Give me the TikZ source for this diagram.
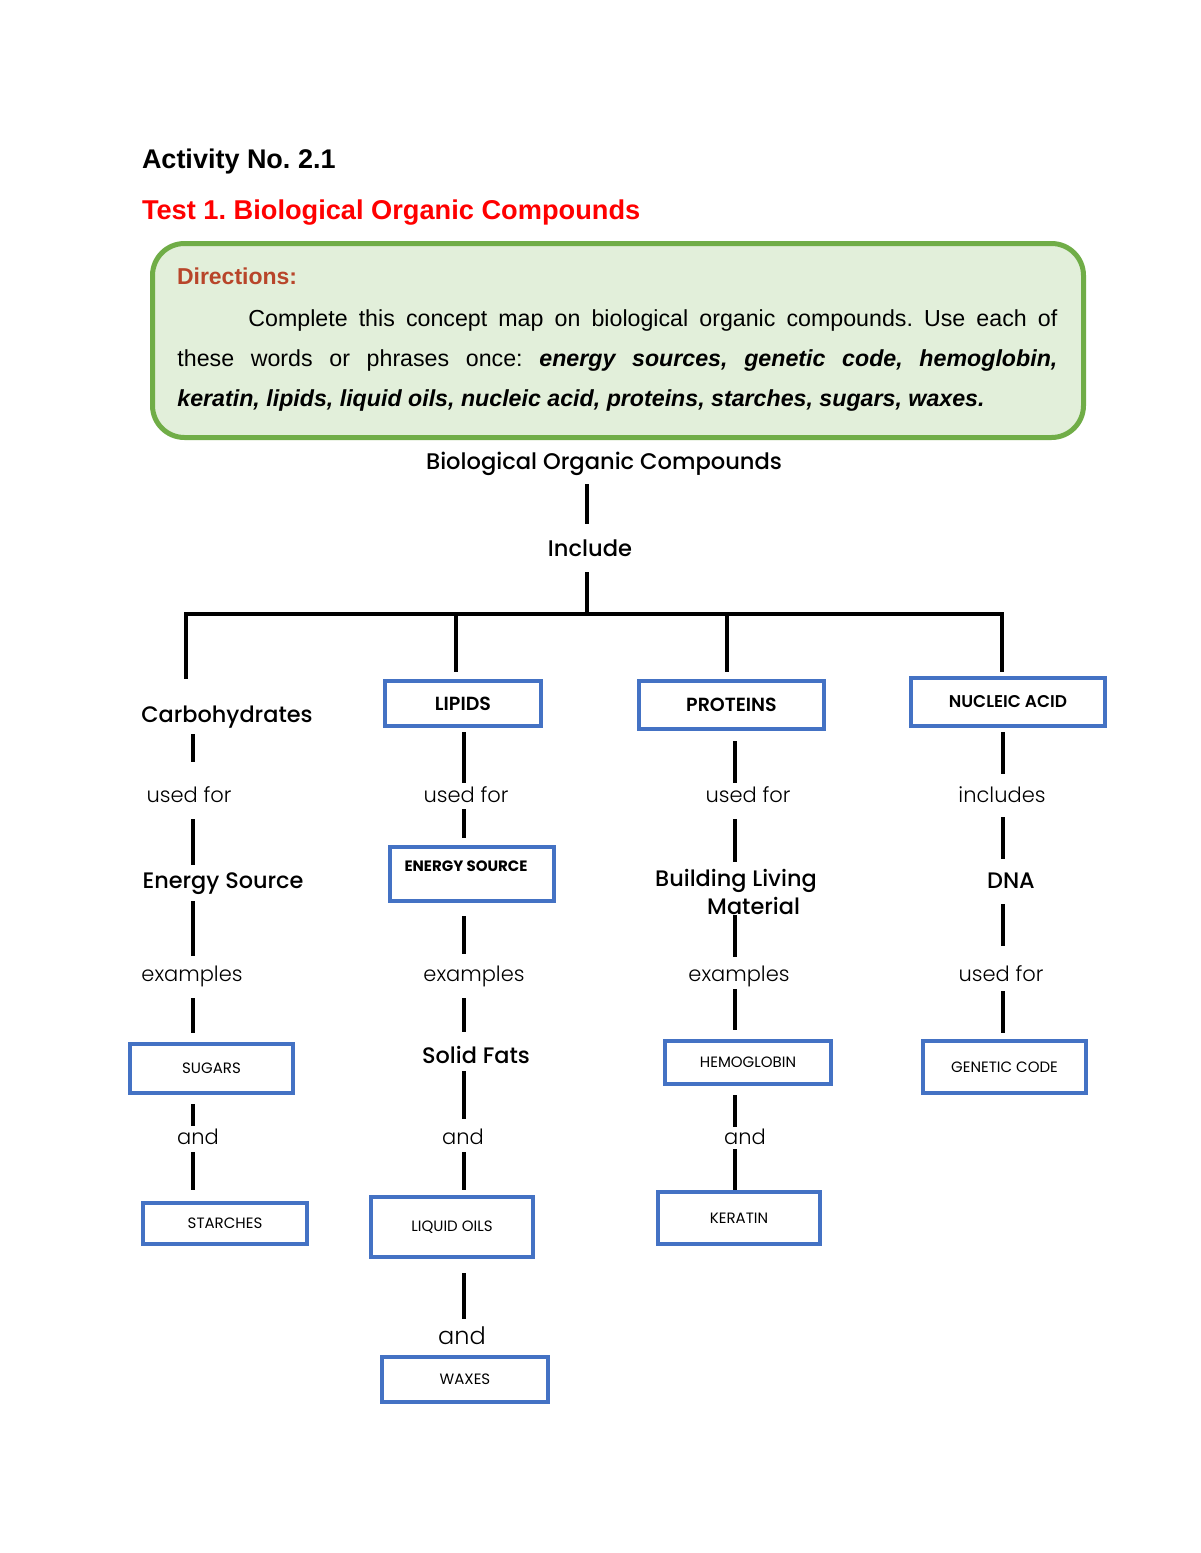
\documentclass[tikz,border=0pt]{standalone}
\usepackage{fontspec}
\setmainfont{Liberation Sans}
\newfontfamily\gl{Poppins Light}
\newfontfamily\gr{Poppins}
\newfontfamily\gm{Poppins Medium}
\newfontfamily\gs{Poppins SemiBold}
\newfontfamily\gb{Poppins Bold}
\definecolor{boxblue}{HTML}{4472C4}
\definecolor{gborder}{HTML}{70AD47}
\definecolor{gfill}{HTML}{E2EFDA}
\definecolor{dircol}{HTML}{B8452A}
\frenchspacing
\begin{document}
\begin{tikzpicture}[x=0.5pt,y=-0.5pt,
  lbl/.style={inner sep=0pt, outer sep=0pt, text height=0pt, text depth=0pt, anchor=base},
  concept/.style={lbl, font=\gm\fontsize{11.2}{14}\selectfont},
  top/.style={lbl, font=\gm\fontsize{11.3}{14}\selectfont},
  link/.style={lbl, font=\gl\fontsize{10.5}{12}\selectfont},
  box/.style 2 args={draw=boxblue, line width=2pt, inner sep=0pt, minimum width=#1pt, minimum height=#2pt, font=\gr\fontsize{7.5}{9}\selectfont},
  hbox/.style={font=\gs\fontsize{9.5}{11}\selectfont},
  conn/.style={line width=2pt, draw=black},
  gap/.style 2 args={shorten <=#1pt, shorten >=#2pt}]
\useasboundingbox (0,0) rectangle (1200,1553);
\fill[white] (0,0) rectangle (1200,1553);

% header
\node[lbl, anchor=base west, font=\bfseries\fontsize{13.5}{15}\selectfont] (act) at (142,168) {Activity No. 2.1};
\node[lbl, anchor=base west, text=red, font=\bfseries\fontsize{13.6}{15}\selectfont] (test) at (142,219) {Test 1. Biological Organic Compounds};

% directions box
\node[draw=gborder, fill=gfill, line width=2.5pt, rounded corners=16pt, inner sep=0pt,
      minimum width=465.5pt, minimum height=97pt] (dirbox) at (618,340.5) {};
\node[lbl, anchor=base west, text=dircol, font=\bfseries\fontsize{11.5}{14}\selectfont] (dirh) at (177,284) {Directions:};
\node[inner sep=0pt, anchor=north west, text width=440pt, align=justify, font=\fontsize{11.6}{20}\selectfont] (dirt) at (177,309)
  {\hspace*{35.5pt}Complete this concept map on biological organic compounds. Use each of\linebreak
   these words or phrases once: \textbf{\textit{energy sources, genetic code, hemoglobin,}}\linebreak
   \textbf{\textit{keratin, lipids, liquid oils, nucleic acid, proteins, starches, sugars, waxes.}}};

% top of map
\node[top] (boc) at (604,469) {Biological Organic Compounds};
\node[top] (inc) at (590,556) {Include};
\coordinate (jc) at (587,614);
\coordinate (j1) at (186,614);
\coordinate (j2) at (456,614);
\coordinate (j3) at (727,614);
\coordinate (j4) at (1002,614);
\coordinate (c1) at (193,0);
\coordinate (c2) at (464,0);
\coordinate (c3) at (735,0);
\coordinate (c4) at (1003,0);

% column 1
\node[concept] (carb) at (227,722) {Carbohydrates};
\node[link] (uf1) at (189,802) {used for};
\node[concept] (es1) at (223,888) {Energy Source};
\node[link] (ex1) at (192,981) {examples};
\node[box={81.5}{24.5}] (sug) at (211.5,1068.5) {SUGARS};
\node[link] (and1) at (198,1144) {and};
\node[box={82}{20.5}] (sta) at (225,1223.5) {STARCHES};

% column 2
\node[box={78}{22.5}, hbox] (lip) at (463,703.5) {LIPIDS};
\node[link] (uf2) at (466,802) {used for};
\node[box={82}{27}, label={[font=\gb\fontsize{7.5}{9}\selectfont, yshift=4pt, xshift=-3pt]center:ENERGY SOURCE}] (esb) at (472,874) {};
\node[link] (ex2) at (474,981) {examples};
\node[concept] (sf) at (476,1063) {Solid Fats};
\node[link] (and2) at (463,1144) {and};
\node[box={81}{30}] (liq) at (452,1227) {LIQUID OILS};
\node[link, font=\gl\fontsize{12}{14}\selectfont] (and3) at (462,1344) {and};
\node[box={83}{22.5}] (wax) at (465,1379.5) {WAXES};

% column 3
\node[box={92.5}{24}, hbox] (pro) at (731.5,705) {PROTEINS};
\node[link] (uf3) at (748,802) {used for};
\node[inner sep=0pt, outer sep=0pt, anchor=north, align=left, font=\gm\fontsize{11.2}{14}\selectfont] (blm) at (736,869) {Building Living\\\hspace*{26pt}Material};
\node[link] (ex3) at (739,981) {examples};
\node[box={83}{21.5}] (hem) at (748,1062.5) {HEMOGLOBIN};
\node[link] (and4) at (745,1144) {and};
\node[box={81}{26}] (ker) at (739,1218) {KERATIN};

% column 4
\node[box={97}{24}, hbox, font=\gs\fontsize{8.5}{10}\selectfont] (nuc) at (1008,702) {NUCLEIC ACID};
\node[link] (incl) at (1002,802) {includes};
\node[concept] (dna) at (1011,888) {DNA};
\node[link] (uf4) at (1001,981) {used for};
\node[box={81.5}{26}] (gen) at (1004.5,1067) {GENETIC CODE};

% connectors: top
\draw[conn, gap={7}{15.5}] (boc.south -| jc) -- (inc.north -| jc);
\draw[conn, gap={7.5}{0}] (inc.south -| jc) -- (jc);
\draw[conn, line cap=rect] (j1) -- (j4);
\draw[conn, gap={0}{21}] (j1) -- (j1 |- carb.north);
\draw[conn, gap={0}{3.5}] (j2) -- (j2 |- lip.north);
\draw[conn, gap={0}{3.5}] (j3) -- (j3 |- pro.north);
\draw[conn, gap={0}{2}] (j4) -- (j4 |- nuc.north);

% connectors: column 1
\draw[conn, gap={5.5}{19.5}] (carb.south -| c1) -- (uf1.north -| c1);
\draw[conn, gap={8}{11}] (uf1.south -| c1) -- (es1.north -| c1);
\draw[conn, gap={6}{12}] (es1.south -| c1) -- (ex1.north -| c1);
\draw[conn, gap={8}{4.5}] (ex1.south -| c1) -- (sug.north -| c1);
\draw[conn, gap={4.5}{8.5}] (sug.south -| c1) -- (and1.north -| c1);
\draw[conn, gap={3.5}{5.5}] (and1.south -| c1) -- (sta.north -| c1);

% connectors: column 2
\draw[conn, gap={2}{9}] (lip.south -| c2) -- (uf2.north -| c2);
\draw[conn, gap={3}{3.5}] (uf2.south -| c2) -- (esb.north -| c2);
\draw[conn, gap={6.5}{13}] (esb.south -| c2) -- (ex2.north -| c2);
\draw[conn, gap={8}{15}] (ex2.south -| c2) -- (sf.north -| c2);
\draw[conn, gap={3.5}{12}] (sf.south -| c2) -- (and2.north -| c2);
\draw[conn, gap={3.5}{2.5}] (and2.south -| c2) -- (liq.north -| c2);
\draw[conn, gap={7}{12}] (liq.south -| c2) -- (and3.north -| c2);

% connectors: column 3
\draw[conn, gap={5}{9}] (pro.south -| c3) -- (uf3.north -| c3);
\draw[conn, gap={8}{3.5}] (uf3.south -| c3) -- (blm.north -| c3);
\draw[conn, gap={0.5}{11.5}] (blm.south -| c3) -- (ex3.north -| c3);
\draw[conn, gap={3.5}{4.5}] (ex3.south -| c3) -- (hem.north -| c3);
\draw[conn, gap={4.5}{8}] (hem.south -| c3) -- (and4.north -| c3);
\draw[conn, gap={2}{0}] (and4.south -| c3) -- (ker.north -| c3);

% connectors: column 4
\draw[conn, gap={2}{13.5}] (nuc.south -| c4) -- (incl.north -| c4);
\draw[conn, gap={7}{14}] (incl.south -| c4) -- (dna.north -| c4);
\draw[conn, gap={7.5}{17}] (dna.south -| c4) -- (uf4.north -| c4);
\draw[conn, gap={4.5}{3}] (uf4.south -| c4) -- (gen.north -| c4);
\end{tikzpicture}
\end{document}
